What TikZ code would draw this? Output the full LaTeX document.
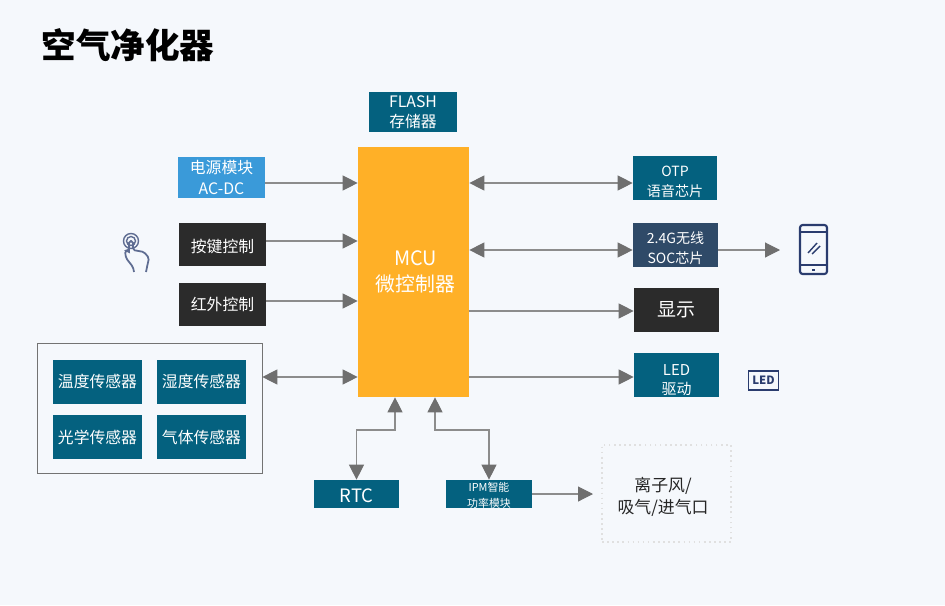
\documentclass[tikz,border=0pt]{standalone}
\usepackage{fontspec}
\setmainfont{Noto Sans CJK SC}
\usepackage{xcolor}
\usetikzlibrary{arrows.meta,calc}
\definecolor{pagebg}{HTML}{F5F8FC}
\definecolor{tealbox}{HTML}{04617F}
\definecolor{darkbox}{HTML}{2B2B2B}
\definecolor{slatebox}{HTML}{2F4A68}
\definecolor{bluebox}{HTML}{3A9AD9}
\definecolor{mcubox}{HTML}{FFB027}
\definecolor{wire}{HTML}{8C8C8C}
\definecolor{tipgray}{HTML}{6F6F6F}
\definecolor{icon}{HTML}{2A3C6E}
\newcommand{\topgap}[1]{\rule{0pt}{#1}}
\tikzstyle{block}=[inner sep=0pt, text=white, align=center, font=\fontsize{9}{11.3}\selectfont]
\tikzstyle{teal}=[block, fill=tealbox, minimum width=1.72cm, minimum height=0.88cm]
\tikzstyle{dark}=[block, fill=darkbox, minimum width=1.74cm, minimum height=0.86cm]
\tikzstyle{low}=[text height=10.2pt]
\tikzstyle{sig}=[draw=wire, line width=0.6pt, -{Triangle[length=0.3cm,width=0.3cm,color=tipgray]}]
\tikzstyle{bisig}=[draw=wire, line width=0.6pt, {Triangle[length=0.3cm,width=0.3cm,color=tipgray]}-{Triangle[length=0.3cm,width=0.3cm,color=tipgray]}]
\begin{document}
\begin{tikzpicture}[x=0.02cm,y=-0.02cm]

\fill[pagebg] (0,0) rectangle (945,605);
\useasboundingbox (0,0) rectangle (945,605);

\node (title) at (128,45) {\fontsize{19.7}{22}\selectfont\bfseries 空气净化器};

% mcu
\node[block, fill=mcubox, minimum width=2.22cm, minimum height=5cm, font=\fontsize{11.3}{14.6}\selectfont] (mcu) at (413.5,272) {\hspace{0.08cm}MCU\\\hspace{0.08cm}微控制器};
\node[teal, minimum width=1.76cm, minimum height=0.8cm] (flash) at (413,112) {FLASH\\存储器};

% left
\node[block, fill=bluebox, minimum width=1.74cm, minimum height=0.82cm, font=\fontsize{9}{11.9}\selectfont] (power) at (221.5,177.5) {电源模块\\AC-DC};
\node[dark, low] (keys) at (222.5,244.5) {按键控制};
\node[dark] (ir) at (222.5,304) {红外控制};

% sensors
\node[draw=black!55, line width=0.4pt, minimum width=4.5cm, minimum height=2.6cm, inner sep=0pt] (group) at (149.5,408) {};
\node[teal, minimum width=1.78cm] (temp) at (97.5,381.5) {温度传感器};
\node[teal, minimum width=1.78cm] (humid) at (201.5,381.5) {湿度传感器};
\node[teal, minimum width=1.78cm] (light) at (97.5,437) {光学传感器};
\node[teal, minimum width=1.78cm] (gas) at (201.5,437) {气体传感器};

% right
\node[teal, minimum width=1.68cm, font=\fontsize{8}{11.8}\selectfont] (otp) at (675,178) {\topgap{10.4pt}OTP\\语音芯片};
\node[block, fill=slatebox, minimum width=1.7cm, minimum height=0.88cm, font=\fontsize{8}{11}\selectfont] (soc) at (675.5,245) {\topgap{10.4pt}2.4G无线\\SOC芯片};
\node[dark, minimum width=1.7cm, minimum height=0.88cm, font=\fontsize{10.8}{13}\selectfont] (disp) at (676.5,310) {显示};
\node[teal, minimum width=1.7cm, font=\fontsize{8.5}{11}\selectfont] (led) at (676.5,375) {\topgap{12pt}LED\\驱动};

% bottom
\node[teal, low, minimum width=1.7cm, minimum height=0.56cm, font=\fontsize{10.5}{13}\selectfont] (rtc) at (356.5,494) {RTC};
\node[teal, text height=15.8pt, text depth=0pt, minimum width=1.72cm, minimum height=0.56cm, font=\fontsize{6.2}{9.2}\selectfont] (ipm) at (489,494) {IPM智能\\功率模块};
\node[draw=black!12, dotted, line width=0.9pt, minimum width=2.58cm, minimum height=1.94cm, inner sep=0pt, align=center, font=\fontsize{9.6}{12.5}\selectfont, text=black!85] (wind) at (666.5,493.5) {\hspace{-0.14cm}\topgap{12pt}离子风/\\\hspace{-0.14cm}吸气/进气口};

% connectors
\draw[sig] (power.east |- 0,183) -- (mcu.west |- 0,183);
\draw[sig] (keys.east |- 0,241) -- (mcu.west |- 0,241);
\draw[sig] (ir.east |- 0,301) -- (mcu.west |- 0,301);
\draw[bisig] (group.east |- 0,377) -- (mcu.west |- 0,377);
\draw[bisig] (mcu.east |- 0,183) -- (otp.west |- 0,183);
\draw[bisig] (mcu.east |- 0,250) -- (soc.west |- 0,250);
\draw[sig] (mcu.east |- 0,311) -- (disp.west |- 0,311);
\draw[sig] (mcu.east |- 0,377) -- (led.west |- 0,377);
\coordinate (phonetip) at (780,250);
\draw[sig] (soc.east |- phonetip) -- (phonetip);
\coordinate (windtip) at (593,494);
\draw[sig] (ipm.east) -- (windtip);
\draw[bisig] (mcu.south -| 395,0) -- (395,430) -- (rtc.north |- 0,430) -- (rtc.north);
\draw[bisig] (mcu.south -| 435,0) -- (435,430) -- (ipm.north |- 0,430) -- (ipm.north);

% phone
\draw[icon, line width=1.2pt, rounded corners=1.5pt] (800,225) rectangle (827,274);
\draw[icon, line width=0.9pt] (800,232) -- (827,232) (800,265) -- (827,265);
\draw[icon, line width=0.8pt] (808,253) -- (817,243) (812,254) -- (820,246);
\draw[icon, line width=1pt] (812,270) -- (815,270);

% led
\node[draw=icon, line width=1pt, text=icon, inner sep=0pt, minimum width=0.6cm, minimum height=0.38cm, font=\fontsize{6.5}{7}\selectfont\bfseries] (ledicon) at (763.5,380.5) {LED};

% hand
\draw[icon!75, line width=0.8pt] (131,241) circle (4.5);
\draw[icon!75, line width=0.8pt] (131,241) circle (7.5);
\draw[icon!75, line width=1pt, rounded corners=1pt] (134,272) -- (133,267) -- (126,258) -- (125,251) -- (128,250) -- (129,253) -- (129,241) -- (133,241) -- (133,250) -- (144,252) -- (149,258) -- (147,267) -- (146,272);

\end{tikzpicture}
\end{document}
